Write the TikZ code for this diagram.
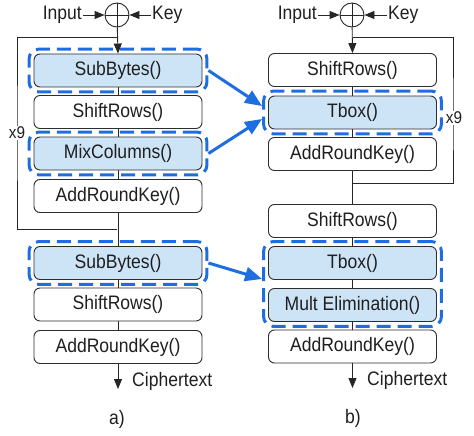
\documentclass[tikz,border=0pt]{standalone}
\usepackage{fontspec}
\setmainfont[FakeStretch=0.9]{Liberation Sans}
\usetikzlibrary{arrows.meta,fit,backgrounds}
\definecolor{hlblue}{RGB}{31,110,225}
\definecolor{hlfill}{RGB}{205,228,247}
\definecolor{boxline}{RGB}{45,45,45}
\begin{document}
\begin{tikzpicture}[x=1pt,y=-1pt,
  font=\fontsize{19.5}{22}\selectfont, text=black!88,
  box/.style={draw=boxline, line width=0.9pt, rounded corners=6pt, minimum width=168pt, minimum height=33pt, fill=white, inner sep=0pt},
  hbox/.style={box, fill=hlfill},
  hl/.style={draw=hlblue, line width=3pt, dash pattern=on 14pt off 7pt, rounded corners=10pt, inner sep=4.5pt},
  conn/.style={draw=black!85, line width=0.9pt},
  tip/.style={-{Triangle[length=10pt,width=8pt]}},
  barrow/.style={draw=hlblue, line width=3pt, -{Triangle[length=17pt,width=14pt]}},
  xor/.style={circle, draw=black!85, line width=0.9pt, minimum size=24pt, inner sep=0pt,
    path picture={\draw[black!85, line width=0.9pt] (path picture bounding box.north) -- (path picture bounding box.south) (path picture bounding box.west) -- (path picture bounding box.east);}},
  rep/.style={fill=white, inner sep=1pt, font=\fontsize{17}{20}\selectfont}
]
\useasboundingbox (0,0) rectangle (474,436);

% ---------- a) ----------
\node[xor] (xa) at (117,15) {};
\node[anchor=east, inner sep=1pt] (ina) at (83,15) {Input};
\node[anchor=west, inner sep=1pt] (keya) at (151,15) {Key};
\node[hbox] (sb1) at (118,70.5) {SubBytes()};
\node[box]  (sr1) at (118,112) {ShiftRows()};
\node[hbox] (mc1) at (118,153.5) {MixColumns()};
\node[box]  (ak1) at (118,196) {AddRoundKey()};
\node[hbox] (sb2) at (118,263) {SubBytes()};
\node[box]  (sr2) at (118,304.5) {ShiftRows()};
\node[box]  (ak2) at (118,347) {AddRoundKey()};
\node[hl, fit=(sb1)] (ha1) {};
\node[hl, fit=(mc1)] (ha2) {};
\node[hl, fit=(sb2)] (ha3) {};
\coordinate (lta) at (117,37);
\coordinate (lla) at (17,133);
\coordinate (lba) at (117,229);
\coordinate (ca) at (118,389);
\node[anchor=west, inner sep=1pt] (cta) at (131,381) {Ciphertext};
\node (laba) at (117,419) {a)};

% ---------- b) ----------
\node[xor] (xb) at (352,15) {};
\node[anchor=east, inner sep=1pt] (inb) at (318,15) {Input};
\node[anchor=west, inner sep=1pt] (keyb) at (387,15) {Key};
\node[box]  (sr3) at (352.5,70) {ShiftRows()};
\node[hbox] (tb1) at (352.5,112.5) {Tbox()};
\node[box]  (ak3) at (352.5,154) {AddRoundKey()};
\node[box]  (sr4) at (352.5,221) {ShiftRows()};
\node[hbox] (tb2) at (352.5,263) {Tbox()};
\node[hbox] (me)  at (352.5,305) {Mult Elimination()};
\node[box]  (ak4) at (352.5,346.5) {AddRoundKey()};
\node[hl, fit=(tb1)] (hb1) {};
\node[hl, fit=(tb2)(me)] (hb2) {};
\coordinate (ltb) at (352.5,37);
\coordinate (llb) at (453,118);
\coordinate (lbb) at (352.5,183);
\coordinate (cb) at (352.5,388);
\node[anchor=west, inner sep=1pt] (ctb) at (366,380) {Ciphertext};
\node (labb) at (353,418) {b)};

% ---------- connectors ----------
\begin{scope}[on background layer]
  \draw[conn] (sb1.center) -- (ak2.center);
  \draw[conn] (sr3.center) -- (ak4.center);
  \draw[conn] (lta) -| (lla) |- (lba);
  \draw[conn] (ltb) -| (llb) |- (lbb);
\end{scope}
\draw[conn,tip] (ina) -- (xa);
\draw[conn,tip] (keya) -- (xa);
\draw[conn,tip] (xa) -- (sb1.north);
\draw[conn,tip] (ak2) -- (ca);
\draw[conn,tip] (inb) -- (xb);
\draw[conn,tip] (keyb) -- (xb);
\draw[conn,tip] (xb) -- (sr3.north);
\draw[conn,tip] (ak4) -- (cb);
\node[rep] (x9a) at (lla) {x9};
\node[rep] (x9b) at (454,118) {x9};

\draw[barrow] (ha1.east) -- ([yshift=6.5pt]hb1.west);
\draw[barrow] (ha2.east) -- ([yshift=-6.5pt]hb1.west);
\draw[barrow] (ha3.east) -- ([yshift=5pt]hb2.west);
\end{tikzpicture}
\end{document}
